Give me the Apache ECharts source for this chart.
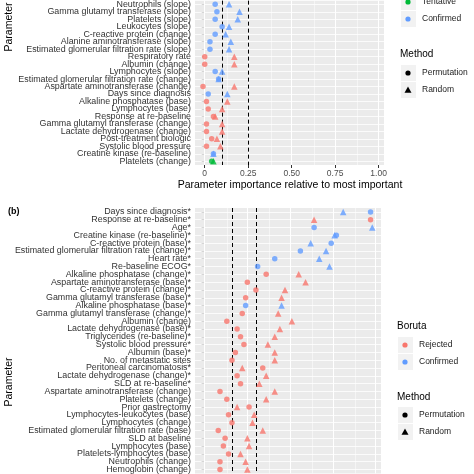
<!DOCTYPE html>
<html><head><meta charset="utf-8">
<script src="https://cdn.jsdelivr.net/npm/echarts@6/dist/echarts.min.js"></script>
<style>html,body{margin:0;padding:0;background:#fff}#c{width:474px;height:474px}</style>
</head><body><div id="c"></div>
<script>
const topParams = ["Neutrophils (slope)","Gamma glutamyl transferase (slope)","Platelets (slope)","Leukocytes (slope)","C-reactive protein (change)","Alanine aminotransferase (slope)","Estimated glomerular filtration rate (slope)","Respiratory rate","Albumin (change)","Lymphocytes (slope)","Estimated glomerular filtration rate (change)","Aspartate aminotransferase (change)","Days since diagnosis","Alkaline phosphatase (base)","Lymphocytes (base)","Response at re-baseline","Gamma glutamyl transferase (change)","Lactate dehydrogenase (change)","Post-treatment biologic","Systolic blood pressure","Creatine kinase (re-baseline)","Platelets (change)"];
const topPerm = [0.06,0.07,0.06,0.10,0.06,0.03,0.03,0.00,0.00,0.06,0.08,-0.01,0.02,0.01,0.02,0.05,0.01,0.01,0.04,0.01,0.05,0.04];
const topRand = [0.14,0.20,0.19,0.14,0.12,0.15,0.14,0.17,0.17,0.10,0.08,0.17,0.13,0.13,0.10,0.06,0.10,0.10,0.07,0.09,0.05,0.05];
const topStatus = ["C","C","C","C","C","C","C","R","R","C","C","R","C","R","R","R","R","R","R","R","C","T"];
const topDashed = [0.10,0.25];

const botParams = ["Days since diagnosis*","Response at re-baseline*","Age*","Creatine kinase (re-baseline)*","C-reactive protein (base)*","Estimated glomerular filtration rate (change)*","Heart rate*","Re-baseline ECOG*","Alkaline phosphatase (change)*","Aspartate aminotransferase (base)*","C-reactive protein (change)*","Gamma glutamyl transferase (base)*","Alkaline phosphatase (base)*","Gamma glutamyl transferase (change)*","Albumin (change)","Lactate dehydrogenase (base)*","Triglycerides (re-baseline)*","Systolic blood pressure*","Albumin (base)*","No. of metastatic sites","Peritoneal carcinomatosis*","Lactate dehydrogenase (change)*","SLD at re-baseline*","Aspartate aminotransferase (change)","Platelets (change)","Prior gastrectomy","Lymphocytes-leukocytes (base)","Lymphocytes (change)","Estimated glomerular filtration rate (base)","SLD at baseline","Lymphocytes (base)","Platelets-lymphocytes (base)","Neutrophils (change)","Hemoglobin (change)"];
const botPerm = [0.97,0.97,0.64,0.77,0.74,0.56,0.41,0.31,0.36,0.25,0.30,0.24,0.24,0.22,0.13,0.19,0.21,0.23,0.18,0.16,0.34,0.19,0.21,0.09,0.13,0.26,0.14,0.16,0.08,0.12,0.11,0.14,0.09,0.09];
const botRand = [0.81,0.64,0.98,0.76,0.62,0.71,0.67,0.73,0.55,0.59,0.47,0.45,0.45,0.43,0.51,0.44,0.41,0.37,0.41,0.41,0.22,0.36,0.32,0.41,0.36,0.19,0.29,0.28,0.34,0.25,0.26,0.21,0.24,0.25];
const botStatus = ["C","R","C","C","C","C","C","C","R","R","R","R","C","R","R","R","R","R","R","R","R","R","R","R","R","R","R","R","R","R","R","R","R","R"];
const botDashed = [0.16,0.30];
const xTicks = [0,0.25,0.5,0.75,1];
const xMinor = [0.125,0.375,0.625,0.875];

const COL = {R:'#F8766D', C:'#619CFF', T:'#00BA38'};
const chart = echarts.init(document.getElementById('c'));

function yAx(idx, params){
  return {type:'category', gridIndex:idx, data:params, inverse:true, boundaryGap:true,
    axisLine:{show:false}, axisTick:{show:true, length:3, lineStyle:{color:'#333'}, alignWithLabel:true},
    axisLabel:{fontSize:8.9, color:'#333', margin:4, interval:0, fontFamily:'Liberation Sans'},
    splitLine:{show:false}};
}
function xAx(idx, showLabels){
  return {type:'value', gridIndex:idx, min:-0.056, max:1.031,
    axisLine:{show:false}, splitLine:{show:false},
    axisTick:{show:showLabels, customValues:xTicks, length:3, lineStyle:{color:'#333'}},
    axisLabel:{show:showLabels, customValues:xTicks, fontSize:8.5, color:'#4d4d4d', margin:4, fontFamily:'Liberation Sans',
      formatter:v=> v===0?'0':v.toFixed(2)}};
}
function gridSeries(idx, params, dashed){
  const lines = [];
  xTicks.forEach(v=>lines.push({xAxis:v, lineStyle:{color:'#fff', width:1, type:'solid'}}));
  xMinor.forEach(v=>lines.push({xAxis:v, lineStyle:{color:'#fff', width:0.5, type:'solid'}}));
  params.forEach(p=>lines.push({yAxis:p, lineStyle:{color:'#fff', width:0.8, type:'solid'}}));
  dashed.forEach(v=>lines.push({xAxis:v, lineStyle:{color:'#000', width:1, type:[4,3]}}));
  return {type:'scatter', xAxisIndex:idx, yAxisIndex:idx, data:[], silent:true, z:1,
    markLine:{silent:true, symbol:'none', label:{show:false}, animation:false, data:lines}};
}
function pts(idx, params, vals, status, sym, size){
  return {type:'scatter', xAxisIndex:idx, yAxisIndex:idx, symbol:sym, symbolSize:size, z:5,
    data: params.map((p,i)=>({value:[vals[i], p], itemStyle:{color:COL[status[i]]}}))};
}

const tf = 'Liberation Sans';
function legendItems(x, y, items){
  const g=[];
  items.forEach((it,i)=>{
    const yy = y + i*17;
    g.push({type:'rect', shape:{x:x-7,y:yy-8,width:15,height:16}, style:{fill:'#F2F2F2'}});
    if(it.shape==='circle') g.push({type:'circle', shape:{cx:x, cy:yy, r:2.6}, style:{fill:it.color}});
    else g.push({type:'polygon', shape:{points:[[x,yy-3.5],[x-3.5,yy+2.8],[x+3.5,yy+2.8]]}, style:{fill:it.color}});
    g.push({type:'text', x:x+14, y:yy, style:{text:it.text, fontSize:8.5, fill:'#222', verticalAlign:'middle', fontFamily:tf}});
  });
  return g;
}
const graphics = [
  {type:'text', x:8, y:212, style:{text:'(b)', fontSize:9, fontWeight:'bold', fill:'#000', verticalAlign:'middle', fontFamily:tf}},
  {type:'text', x:290, y:185, style:{text:'Parameter importance relative to most important', fontSize:10.5, fill:'#000', align:'center', verticalAlign:'middle', fontFamily:tf}},
  {type:'text', x:9, y:27, rotation:Math.PI/2, style:{text:'Parameter', fontSize:10.5, fill:'#000', align:'center', verticalAlign:'middle', fontFamily:tf}},
  {type:'text', x:9, y:382, rotation:Math.PI/2, style:{text:'Parameter', fontSize:10.5, fill:'#000', align:'center', verticalAlign:'middle', fontFamily:tf}},
  {type:'text', x:400, y:54, style:{text:'Method', fontSize:10, fill:'#000', verticalAlign:'middle', fontFamily:tf}},
  {type:'text', x:397, y:326, style:{text:'Boruta', fontSize:10, fill:'#000', verticalAlign:'middle', fontFamily:tf}},
  {type:'text', x:397, y:397, style:{text:'Method', fontSize:10, fill:'#000', verticalAlign:'middle', fontFamily:tf}},
  ...legendItems(408, 2, [{shape:'circle',color:COL.T,text:'Tentative'},{shape:'circle',color:COL.C,text:'Confirmed'}]),
  ...legendItems(408, 73, [{shape:'circle',color:'#000',text:'Permutation'},{shape:'tri',color:'#000',text:'Random'}]),
  ...legendItems(405, 345, [{shape:'circle',color:COL.R,text:'Rejected'},{shape:'circle',color:COL.C,text:'Confirmed'}]),
  ...legendItems(405, 415, [{shape:'circle',color:'#000',text:'Permutation'},{shape:'tri',color:'#000',text:'Random'}])
];

chart.setOption({
  animation:false,
  grid:[
    {left:195, top:-5, width:189, height:170, show:true, backgroundColor:'#EBEBEB', borderWidth:0},
    {left:195, top:208, width:186, height:266, show:true, backgroundColor:'#EBEBEB', borderWidth:0}
  ],
  xAxis:[xAx(0,true), xAx(1,false)],
  yAxis:[yAx(0,topParams), yAx(1,botParams)],
  series:[
    gridSeries(0, topParams, topDashed),
    gridSeries(1, botParams, botDashed),
    pts(0, topParams, topPerm, topStatus, 'circle', 5.5),
    pts(0, topParams, topRand, topStatus, 'triangle', 6.5),
    pts(1, botParams, botPerm, botStatus, 'circle', 5.5),
    pts(1, botParams, botRand, botStatus, 'triangle', 6.5)
  ],
  graphic:graphics
});
</script></body></html>
